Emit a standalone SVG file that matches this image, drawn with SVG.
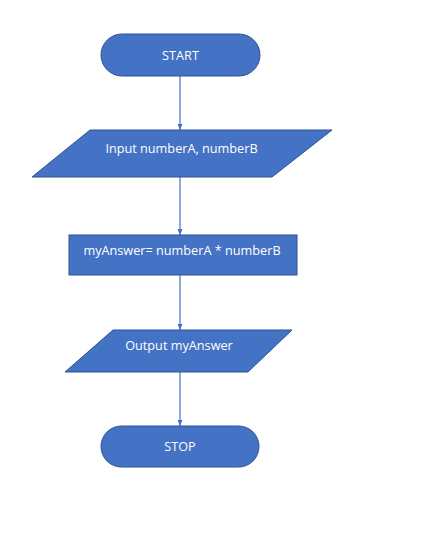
<svg xmlns="http://www.w3.org/2000/svg" width="421" height="551" viewBox="0 0 421 551">
<style>
.shape{fill:#4472C4;stroke:#2F528F;stroke-width:1}
.lbl{font-family:"Open Sans","Noto Sans",sans-serif;font-size:12.7px;fill:#ffffff;text-anchor:middle}
.conn{stroke:#4472C4;stroke-width:1.2;fill:none;marker-end:url(#ah)}
</style>
<defs>
<marker id="ah" markerWidth="6" markerHeight="5" refX="6" refY="2.5" orient="auto" markerUnits="userSpaceOnUse">
<path d="M0,0 L6,2.5 L0,5 Z" fill="#4472C4"/>
</marker>
</defs>
<rect width="421" height="551" fill="#ffffff"/>
<g id="connectors">
<line class="conn" x1="180" y1="76" x2="180" y2="130"/>
<line class="conn" x1="180" y1="177" x2="180" y2="235"/>
<line class="conn" x1="180" y1="275" x2="180" y2="330"/>
<line class="conn" x1="180" y1="372" x2="180" y2="426"/>
</g>
<g id="start">
<rect class="shape" x="101" y="34" width="159" height="42" rx="21"/>
<text class="lbl" x="180.5" y="60">START</text>
</g>
<g id="input">
<polygon class="shape" points="90,130 332,130 272,177 32,177"/>
<text class="lbl" x="181.5" y="153">Input numberA, numberB</text>
</g>
<g id="process">
<rect class="shape" x="69" y="235" width="228" height="40"/>
<text class="lbl" x="182" y="255">myAnswer= numberA * numberB</text>
</g>
<g id="output">
<polygon class="shape" points="113,330 292,330 248,372 65,372"/>
<text class="lbl" x="179" y="350">Output myAnswer</text>
</g>
<g id="stop">
<rect class="shape" x="101" y="426" width="158" height="41" rx="20.5"/>
<text class="lbl" x="180" y="451">STOP</text>
</g>
</svg>
